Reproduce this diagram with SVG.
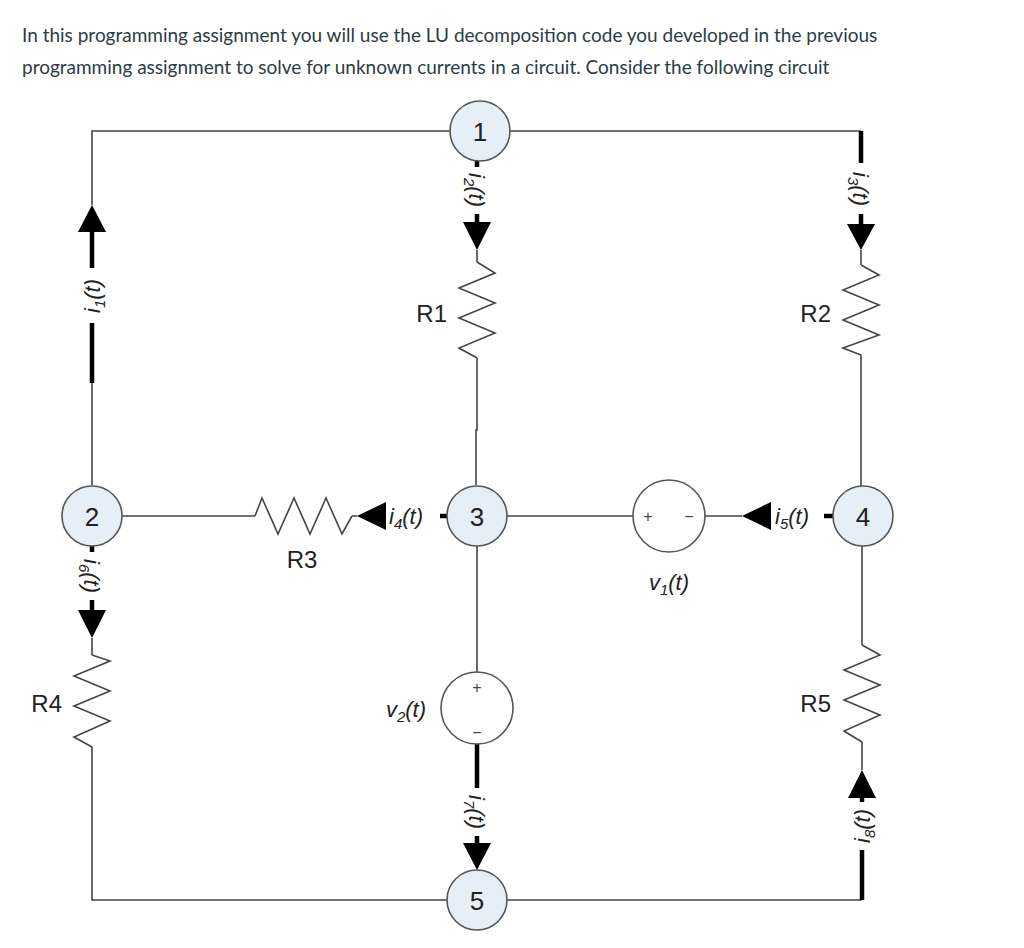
<svg xmlns="http://www.w3.org/2000/svg" width="1024" height="948" viewBox="0 0 1024 948">
<defs>
<style>
.w{stroke:#444;stroke-width:1.6;fill:none}
.t{stroke:#000;stroke-width:4.5;fill:none}
.ah{fill:#000}
.node{fill:#e6eef8;stroke:#555;stroke-width:1.6}
.src{fill:#fff;stroke:#555;stroke-width:1.6}
.nl{font-family:"Liberation Sans",Arial,sans-serif;font-size:26px;fill:#222;text-anchor:middle}
.rl{font-family:"Liberation Sans",Arial,sans-serif;font-size:24px;fill:#222}
.il{font-family:"Liberation Sans",Arial,sans-serif;font-size:22px;font-style:italic;fill:#222}
.sb{font-size:15px}
.pm{font-family:"Liberation Sans",Arial,sans-serif;font-size:16px;fill:#444;text-anchor:middle}
.hd{font-family:Lato,"Liberation Sans",sans-serif;font-size:19px;fill:#2d3b45}
</style>
</defs>
<text class="hd" x="22" y="42">In this programming assignment you will use the LU decomposition code you developed in the previous</text>
<text class="hd" x="22" y="74">programming assignment to solve for unknown currents in a circuit. Consider the following circuit</text>
<g id="connectors">
<path class="w" d="M450,131 H92 V205 M92,383 V485"/>
<path class="w" d="M510,131 H861"/>
<path class="w" d="M477,250 V262 M477,358 V430 H476 V485"/>
<path class="w" d="M477,262 L495,273 L459,288 L495,303 L459,318 L495,333 L459,348 L477,358"/>
<path class="w" d="M861,250 V265 M861,355 V486"/>
<path class="w" d="M861,265 L879,275 L843,290 L879,305 L843,320 L879,335 L843,348 L861,355"/>
<path class="w" d="M122,516 H255 M352,516 H357"/>
<path class="w" d="M255,516 L262,498 L278,534 L294,498 L310,534 L326,498 L342,534 L352,516"/>
<path class="w" d="M507,516 H633 M705,516 H742"/>
<path class="w" d="M92,638 V655 M92,747 V900 H447"/>
<path class="w" d="M92,655 L110,661 L74,676 L110,691 L74,706 L110,721 L74,737 L92,747"/>
<path class="w" d="M477,546 V672"/>
<path class="w" d="M507,900 H861 V895"/>
<path class="w" d="M862,546 V645 M862,742 V770"/>
<path class="w" d="M862,645 L880,655 L844,670 L880,685 L844,700 L880,715 L844,731 L862,742"/>
<!-- thick current indicators -->
<path class="t" d="M92,383 V323 M92,268 V232"/>
<polygon class="ah" points="92,205 78,232 106,232"/>
<path class="t" d="M477,161 V167 M477,214 V222"/>
<polygon class="ah" points="477,250 463,222 491,222"/>
<path class="t" d="M861,131 V163 M861,214 V224"/>
<polygon class="ah" points="861,250 847,224 875,224"/>
<path class="t" d="M440,516 H447"/>
<polygon class="ah" points="357,516 386,502 386,530"/>
<path class="t" d="M824,516 H833"/>
<polygon class="ah" points="742,516 771,502 771,530"/>
<path class="t" d="M92,546 V552 M92,600 V610"/>
<polygon class="ah" points="92,638 78,610 106,610"/>
<path class="t" d="M477,744 V788 M477,836 V843"/>
<polygon class="ah" points="477,870 463,843 491,843"/>
<path class="t" d="M862,798 V802 M862,850 V900"/>
<polygon class="ah" points="862,770 848,798 876,798"/>
</g>
<g id="n1"><circle class="node" cx="480" cy="131" r="30"/><text class="nl" x="480" y="141">1</text></g>
<g id="n2"><circle class="node" cx="92" cy="516" r="30"/><text class="nl" x="92" y="526">2</text></g>
<g id="n3"><circle class="node" cx="477" cy="516" r="30"/><text class="nl" x="477" y="526">3</text></g>
<g id="n4"><circle class="node" cx="863" cy="516" r="30"/><text class="nl" x="863" y="526">4</text></g>
<g id="n5"><circle class="node" cx="477" cy="900" r="30"/><text class="nl" x="477" y="910">5</text></g>
<g id="v1"><circle class="src" cx="669" cy="516" r="36"/><text class="pm" x="648" y="522">+</text><text class="pm" x="689" y="522">−</text>
<text class="il" x="669" y="590" text-anchor="middle">v<tspan class="sb" dy="5">1</tspan><tspan dy="-5">(t)</tspan></text></g>
<g id="v2"><circle class="src" cx="477" cy="708" r="36"/><text class="pm" x="477" y="693">+</text><text class="pm" x="477" y="738">−</text>
<text class="il" x="426" y="717" text-anchor="end">v<tspan class="sb" dy="5">2</tspan><tspan dy="-5">(t)</tspan></text></g>
<g id="labels">
<text class="rl" x="447" y="322" text-anchor="end">R1</text>
<text class="rl" x="831" y="322" text-anchor="end">R2</text>
<text class="rl" x="302" y="568" text-anchor="middle">R3</text>
<text class="rl" x="62" y="712" text-anchor="end">R4</text>
<text class="rl" x="831" y="712" text-anchor="end">R5</text>
<text class="il" x="389" y="524">i<tspan class="sb" dy="5">4</tspan><tspan dy="-5">(t)</tspan></text>
<text class="il" x="775" y="524">i<tspan class="sb" dy="5">5</tspan><tspan dy="-5">(t)</tspan></text>
<text class="il" transform="translate(100,296) rotate(-90)" text-anchor="middle">i<tspan class="sb" dy="5">1</tspan><tspan dy="-5">(t)</tspan></text>
<text class="il" transform="translate(469,190) rotate(90)" text-anchor="middle">i<tspan class="sb" dy="5">2</tspan><tspan dy="-5">(t)</tspan></text>
<text class="il" transform="translate(853,189) rotate(90)" text-anchor="middle">i<tspan class="sb" dy="5">3</tspan><tspan dy="-5">(t)</tspan></text>
<text class="il" transform="translate(84,576) rotate(90)" text-anchor="middle">i<tspan class="sb" dy="5">6</tspan><tspan dy="-5">(t)</tspan></text>
<text class="il" transform="translate(469,812) rotate(90)" text-anchor="middle">i<tspan class="sb" dy="5">7</tspan><tspan dy="-5">(t)</tspan></text>
<text class="il" transform="translate(870,826) rotate(-90)" text-anchor="middle">i<tspan class="sb" dy="5">8</tspan><tspan dy="-5">(t)</tspan></text>
</g>
</svg>
